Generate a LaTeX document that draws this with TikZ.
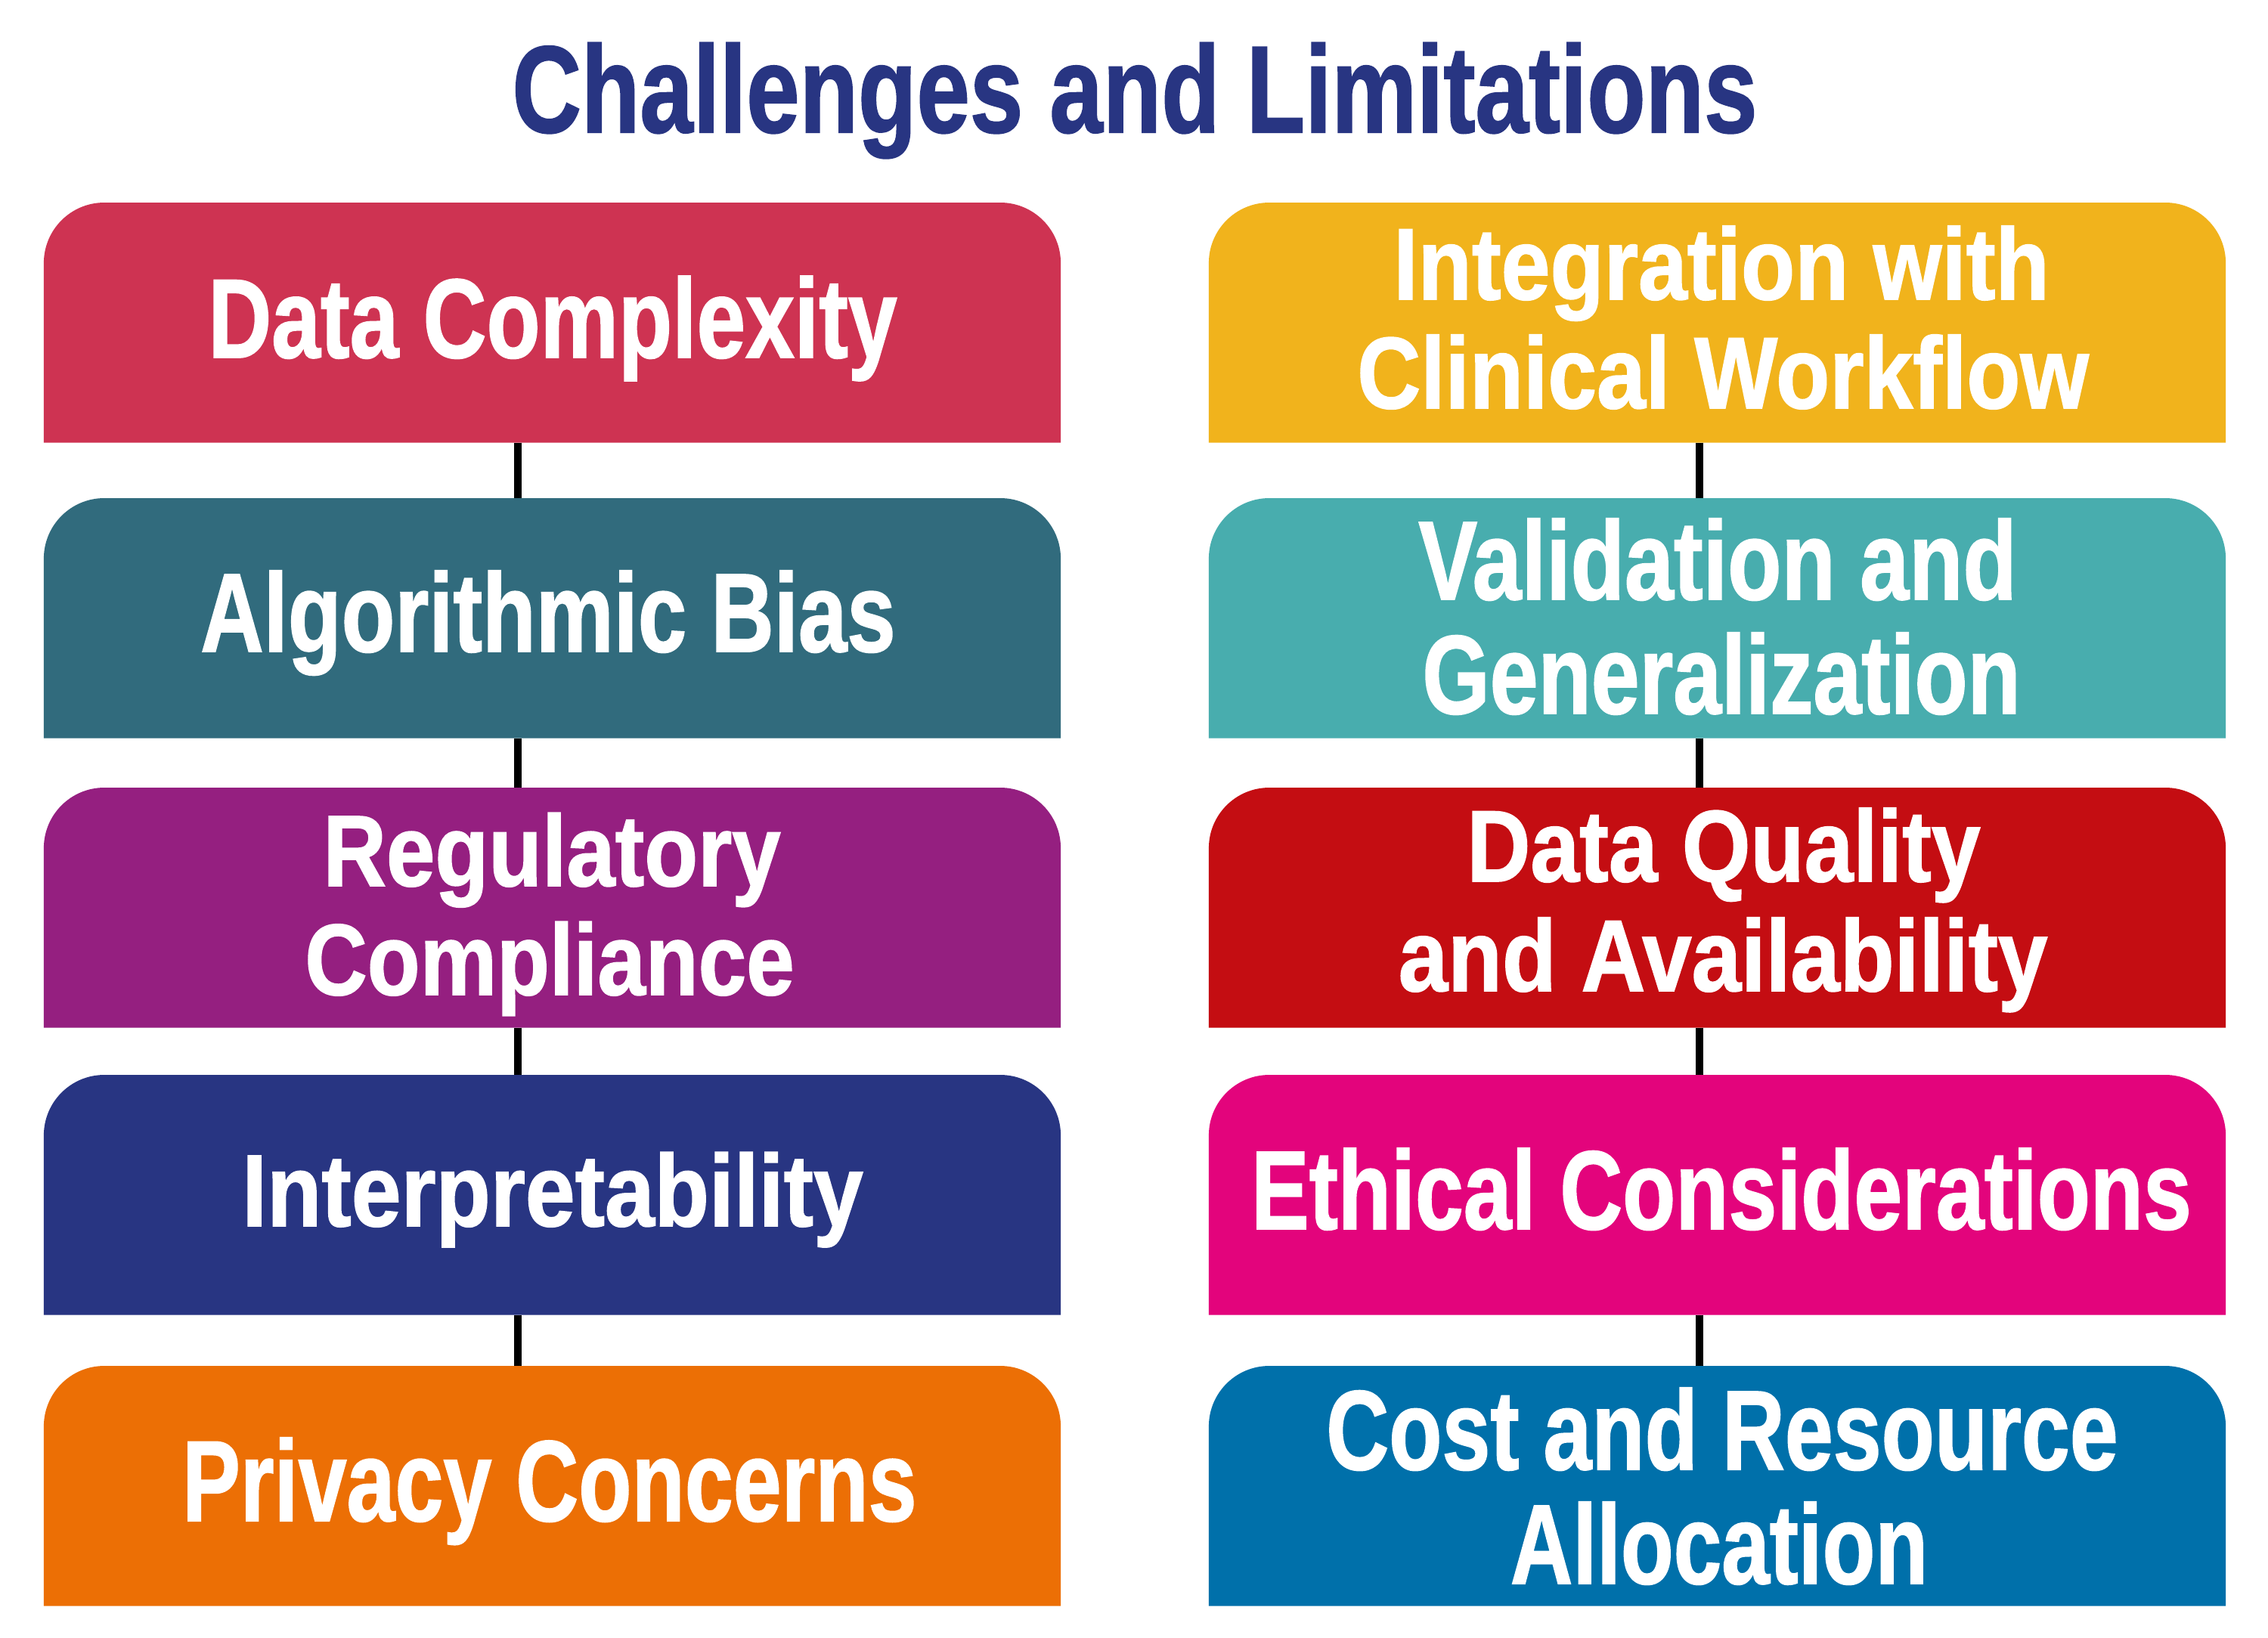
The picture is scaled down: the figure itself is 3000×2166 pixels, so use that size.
\documentclass[tikz,border=0pt]{standalone}
\usepackage{fontspec}
\setmainfont{Liberation Sans}[BoldFeatures={FakeBold=1.3}]
\usepackage{graphicx}
\newcommand\fsz[1]{\fontsize{#1}{#1}\selectfont\bfseries}
\newcommand\fitw[2]{\resizebox{#1}{\height}{#2}}
\definecolor{cRed}{HTML}{CE3352}
\definecolor{cTeal}{HTML}{316B7D}
\definecolor{cPurple}{HTML}{951F80}
\definecolor{cNavy}{HTML}{283582}
\definecolor{cOrange}{HTML}{EC6F05}
\definecolor{cYellow}{HTML}{F1B31C}
\definecolor{cLTeal}{HTML}{48ADAE}
\definecolor{cDRed}{HTML}{C40D12}
\definecolor{cMagenta}{HTML}{E3047C}
\definecolor{cBlue}{HTML}{0070AA}
\definecolor{cTitle}{HTML}{283582}
\begin{document}
\begin{tikzpicture}[x=0.01cm,y=-0.01cm,
  box/.style={rectangle, anchor=north, minimum width=13.43cm, minimum height=3.16cm,
    inner sep=0pt, draw=none},
  txt/.style={anchor=base, inner sep=0pt, text=white},
  conn/.style={draw=black, line width=2.6pt}]
\useasboundingbox (0,0) rectangle (3000,2166);
\fill[white] (0,0) rectangle (3000,2166);
\coordinate (cl) at (685,0);
\coordinate (cr) at (2248,0);
% title
\node[anchor=base, inner sep=0pt, text=cTitle, font=\fsz{46.5}] (title) at (1501,175)
  {\fitw{16.46cm}{Challenges and Limitations}};
% boxes
\node[box]  (dc)  at (730.5,268)  {};
\node[box]  (ab)  at (730.5,659)  {};
\node[box]  (rc)  at (730.5,1042) {};
\node[box]  (ip)  at (730.5,1422) {};
\node[box]  (pc)  at (730.5,1807) {};
\node[box]  (iw)  at (2271.5,268)  {};
\node[box]  (vg)  at (2271.5,659)  {};
\node[box]  (dq)  at (2271.5,1042) {};
\node[box]  (ec)  at (2271.5,1422) {};
\node[box]  (cr2) at (2271.5,1807) {};
% box shapes: top corners rounded
\foreach \n/\c in {dc/cRed,ab/cTeal,rc/cPurple,ip/cNavy,pc/cOrange,iw/cYellow,vg/cLTeal,dq/cDRed,ec/cMagenta,cr2/cBlue}{
  \fill[\c] (\n.south west) -- ([yshift=-0.8cm]\n.north west)
     arc[start angle=180, end angle=90, radius=0.8cm]
     -- ([xshift=-0.8cm]\n.north east)
     arc[start angle=90, end angle=0, radius=0.8cm]
     -- (\n.south east) -- cycle;
}
% connectors
\draw[conn] (dc.south -| cl) -- (ab.north -| cl);
\draw[conn] (ab.south -| cl) -- (rc.north -| cl);
\draw[conn] (rc.south -| cl) -- (ip.north -| cl);
\draw[conn] (ip.south -| cl) -- (pc.north -| cl);
\draw[conn] (iw.south -| cr) -- (vg.north -| cr);
\draw[conn] (vg.south -| cr) -- (dq.north -| cr);
\draw[conn] (dq.south -| cr) -- (ec.north -| cr);
\draw[conn] (ec.south -| cr) -- (cr2.north -| cr);
% texts left
\node[txt, font=\fsz{42.3}] (dc-t)  at (731,473)  {\fitw{9.11cm}{Data Complexity}};
\node[txt, font=\fsz{42.1}] (ab-t)  at (725,862)  {\fitw{9.19cm}{Algorithmic Bias}};
\node[txt, font=\fsz{38.0}] (rc-t1) at (730,1172) {\fitw{6.05cm}{Regulatory}};
\node[txt, font=\fsz{38.0}] (rc-t2) at (727,1316) {\fitw{6.47cm}{Compliance}};
\node[txt, font=\fsz{38.4}] (ip-t)  at (731,1622) {\fitw{8.21cm}{Interpretability}};
\node[txt, font=\fsz{43.2}] (pc-t)  at (727,2012) {\fitw{9.71cm}{Privacy Concerns}};
% texts right
\node[txt, font=\fsz{38.2}] (iw-t1) at (2277,396)  {\fitw{8.67cm}{Integration with}};
\node[txt, font=\fsz{38.2}] (iw-t2) at (2279,540)  {\fitw{9.67cm}{Clinical Workflow}};
\node[txt, font=\fsz{42.1}] (vg-t1) at (2272,793)  {\fitw{7.91cm}{Validation and}};
\node[txt, font=\fsz{42.1}] (vg-t2) at (2277,944)  {\fitw{7.91cm}{Generalization}};
\node[txt, font=\fsz{38.2}] (dq-t1) at (2280,1166) {\fitw{6.79cm}{Data Quality}};
\node[txt, font=\fsz{38.2}] (dq-t2) at (2279,1311) {\fitw{8.58cm}{and Availability}};
\node[txt, font=\fsz{42.1}] (ec-t)  at (2277,1626) {\fitw{12.43cm}{Ethical Considerations}};
\node[txt, font=\fsz{42.5}] (cr-t1) at (2278,1944) {\fitw{10.47cm}{Cost and Resource}};
\node[txt, font=\fsz{42.5}] (cr-t2) at (2274,2095) {\fitw{5.52cm}{Allocation}};
\end{tikzpicture}
\end{document}
